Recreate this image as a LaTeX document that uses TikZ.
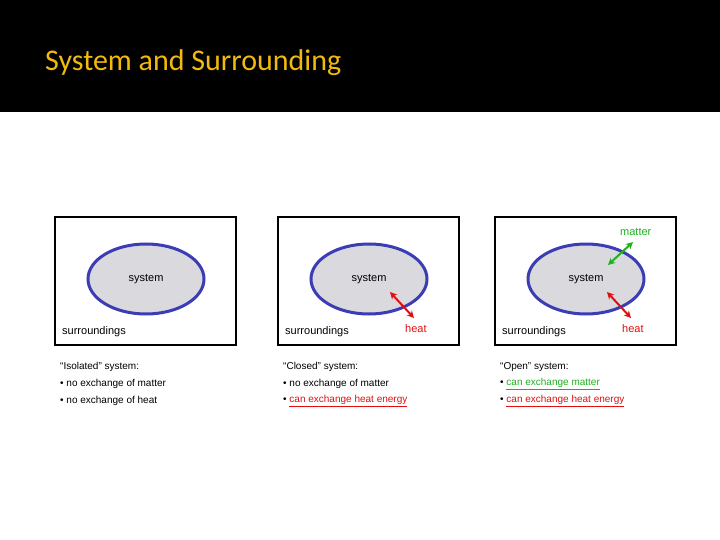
\documentclass[tikz,border=0pt]{standalone}
\usepackage{fontspec}
\usetikzlibrary{shapes.geometric,arrows.meta}
\setmainfont{Liberation Sans}
\newfontfamily\titlefont{Carlito}
\definecolor{ttl}{HTML}{F2BA0C}
\definecolor{ell}{HTML}{3C3CB4}
\definecolor{ellfill}{HTML}{D9D9DE}
\definecolor{hred}{HTML}{E01010}
\definecolor{mgreen}{HTML}{20B020}
\begin{document}
\begin{tikzpicture}[x=1pt,y=-1pt,
  panel/.style={draw=black,line width=2.2pt,fill=white},
  sysell/.style={draw=ell,line width=3pt,fill=ellfill,ellipse,minimum width=116pt,minimum height=70pt,inner sep=0pt,font=\fontsize{11}{13}\selectfont},
  lbl/.style={anchor=west,inner sep=0pt,font=\fontsize{11}{13}\selectfont},
  captxt/.style={anchor=west,inner sep=0pt,font=\fontsize{10}{12}\selectfont},
  arr/.style={<->,>={Stealth[length=7pt,width=7pt]},line width=2pt}]
\useasboundingbox (0,0) rectangle (720,540);
\fill[black] (0,0) rectangle (720,112);
\node[anchor=west,inner sep=0pt,text=ttl,font=\titlefont\fontsize{30}{34}\selectfont] (title) at (45,63) {System and Surrounding};
% panel 1
\draw[panel] (55,217) rectangle (236,345);
\node[sysell] (s1) at (146,279) {system};
\node[lbl] (r1) at (62,332) {surroundings};
\node[captxt] (c1a) at (60,367) {“Isolated” system:};
\node[captxt] (c1b) at (60,384) {\textbullet\ no exchange of matter};
\node[captxt] (c1c) at (60,401) {\textbullet\ no exchange of heat};
% panel 2
\draw[panel] (278,217) rectangle (459,345);
\node[sysell] (s2) at (369,279) {system};
\node[lbl] (r2) at (285,332) {surroundings};
\node[lbl,text=hred] (h2) at (405,329) {heat};
\coordinate (h2a) at (390,292);
\coordinate (h2b) at (414,318);
\draw[arr,hred] (h2a) -- (h2b);
\node[captxt] (c2a) at (283,367) {“Closed” system:};
\node[captxt] (c2b) at (283,384) {\textbullet\ no exchange of matter};
\node[captxt] (c2c) at (283,401) {\textbullet\ \textcolor{hred}{\underline{can exchange heat energy}}};
% panel 3
\draw[panel] (495,217) rectangle (676,345);
\node[sysell] (s3) at (586,279) {system};
\node[lbl] (r3) at (502,332) {surroundings};
\node[lbl,text=hred] (h3) at (622,329) {heat};
\coordinate (h3a) at (607,292);
\coordinate (h3b) at (631,318);
\draw[arr,hred] (h3a) -- (h3b);
\node[lbl,text=mgreen] (m3) at (620,232) {matter};
\coordinate (m3a) at (608,265);
\coordinate (m3b) at (633,242);
\draw[arr,mgreen] (m3a) -- (m3b);
\node[captxt] (c3a) at (500,367) {“Open” system:};
\node[captxt] (c3b) at (500,384) {\textbullet\ \textcolor{mgreen}{\underline{can exchange matter}}};
\node[captxt] (c3c) at (500,401) {\textbullet\ \textcolor{hred}{\underline{can exchange heat energy}}};
\end{tikzpicture}
\end{document}
